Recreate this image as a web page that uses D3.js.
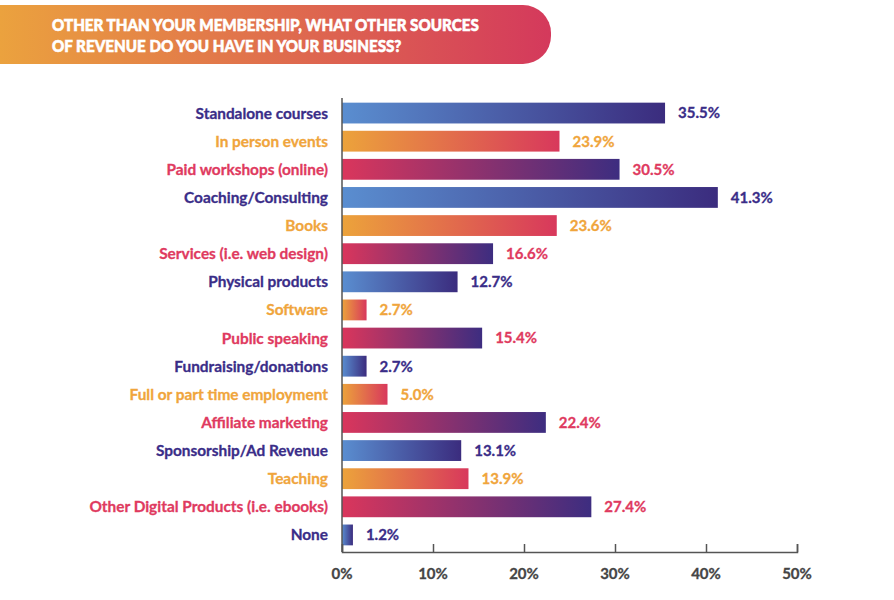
<!DOCTYPE html>
<html>
<head>
<meta charset="utf-8">
<script src="https://cdn.jsdelivr.net/npm/d3@7"></script>
<style>
  body { margin: 0; background: #fff; }
  svg { display: block; font-family: Lato, "Open Sans", sans-serif; }
</style>
</head>
<body>
<div id="chart"></div>
<script>
// data
const categories = ["Standalone courses", "In person events", "Paid workshops (online)", "Coaching/Consulting",
  "Books", "Services (i.e. web design)", "Physical products", "Software", "Public speaking",
  "Fundraising/donations", "Full or part time employment", "Affiliate marketing",
  "Sponsorship/Ad Revenue", "Teaching", "Other Digital Products (i.e. ebooks)", "None"];
const values = [35.5, 23.9, 30.5, 41.3, 23.6, 16.6, 12.7, 2.7, 15.4, 2.7, 5.0, 22.4, 13.1, 13.9, 27.4, 1.2];
const xTicks = [0, 10, 20, 30, 40, 50];
const titleLines = ["OTHER THAN YOUR MEMBERSHIP, WHAT OTHER SOURCES", "OF REVENUE DO YOU HAVE IN YOUR BUSINESS?"];

// palette cycles blue / orange / pink
const themes = [
  { id: "gBlue", from: "#5a8ed0", to: "#3b2c7e", text: "#3a2d88" },
  { id: "gOrange", from: "#eca33b", to: "#d8385c", text: "#f0a53c" },
  { id: "gPink", from: "#da365c", to: "#3d2d80", text: "#df3a60" }
];

const width = 894, height = 600;
const margin = { top: 98, left: 342, right: 97, bottom: 48 };

const svg = d3.select("#chart").append("svg")
  .attr("width", width).attr("height", height);

const defs = svg.append("defs");
themes.forEach(t => {
  const g = defs.append("linearGradient").attr("id", t.id)
    .attr("x1", "0%").attr("x2", "100%").attr("y1", "0%").attr("y2", "0%");
  g.append("stop").attr("offset", "0%").attr("stop-color", t.from);
  g.append("stop").attr("offset", "100%").attr("stop-color", t.to);
});
const bannerGrad = defs.append("linearGradient").attr("id", "gBanner")
  .attr("x1", "0%").attr("x2", "100%");
bannerGrad.append("stop").attr("offset", "0%").attr("stop-color", "#eba23e");
bannerGrad.append("stop").attr("offset", "100%").attr("stop-color", "#d4395c");

// banner
const bx = 0, by = 5, bw = 551, bh = 59, br = 28;
svg.append("path")
  .attr("d", `M${bx},${by} H${bw - br} A${br},${br} 0 0 1 ${bw},${by + br} V${by + bh - br} A${br},${br} 0 0 1 ${bw - br},${by + bh} H${bx} Z`)
  .attr("fill", "url(#gBanner)");
// title font is a narrow heavy face, squeeze Lato a bit and thicken with a stroke
svg.append("g").attr("transform", "translate(52,0) scale(0.92,1)")
  .selectAll("text").data(titleLines).enter().append("text")
  .attr("x", 0).attr("y", (d, i) => 31 + i * 21)
  .attr("fill", "#fff").attr("stroke", "#fff").attr("stroke-width", 0.6)
  .attr("font-size", 16.5).attr("font-weight", 900)
  .text(d => d);

// scales
const x = d3.scaleLinear().domain([0, 50]).range([margin.left, width - margin.right]);
const y = d3.scaleBand().domain(categories)
  .range([margin.top + 1, height - margin.bottom - 3]).paddingInner(0.26).paddingOuter(0.13);

// bars
svg.append("g").selectAll("rect").data(values).enter().append("rect")
  .attr("x", x(0))
  .attr("y", (d, i) => y(categories[i]))
  .attr("width", d => x(d) - x(0))
  .attr("height", y.bandwidth())
  .attr("fill", (d, i) => `url(#${themes[i % 3].id})`);

// value labels
svg.append("g").selectAll("text").data(values).enter().append("text")
  .attr("x", d => x(d) + 13)
  .attr("y", (d, i) => y(categories[i]) + y.bandwidth() / 2)
  .attr("dy", "0.36em")
  .attr("font-size", 15).attr("font-weight", 700)
  .attr("fill", (d, i) => themes[i % 3].text)
  .attr("stroke", (d, i) => themes[i % 3].text).attr("stroke-width", 0.3)
  .text(d => d.toFixed(1) + "%");

// category labels
svg.append("g").selectAll("text").data(categories).enter().append("text")
  .attr("x", margin.left - 14)
  .attr("y", d => y(d) + y.bandwidth() / 2)
  .attr("dy", "0.36em")
  .attr("text-anchor", "end")
  .attr("font-size", 15.4).attr("font-weight", 700)
  .attr("fill", (d, i) => themes[i % 3].text)
  .attr("stroke", (d, i) => themes[i % 3].text).attr("stroke-width", 0.3)
  .text(d => d);

// axes
const axisY = height - margin.bottom;
const xAxis = svg.append("g").attr("transform", `translate(0,${axisY})`)
  .call(d3.axisTop(x).tickValues(xTicks).tickSize(8).tickFormat(""));
xAxis.select(".domain").attr("stroke", "#555").attr("stroke-width", 1.5);
xAxis.selectAll(".tick line").attr("stroke", "#555").attr("stroke-width", 1.5);

svg.append("line")
  .attr("x1", x(0)).attr("x2", x(0))
  .attr("y1", margin.top).attr("y2", axisY)
  .attr("stroke", "#555").attr("stroke-width", 1.5);

svg.append("g").selectAll("text").data(xTicks).enter().append("text")
  .attr("x", d => x(d)).attr("y", axisY + 27)
  .attr("text-anchor", "middle")
  .attr("font-size", 15).attr("font-weight", 700).attr("fill", "#454545")
  .attr("stroke", "#454545").attr("stroke-width", 0.3)
  .text(d => d + "%");
</script>
</body>
</html>
